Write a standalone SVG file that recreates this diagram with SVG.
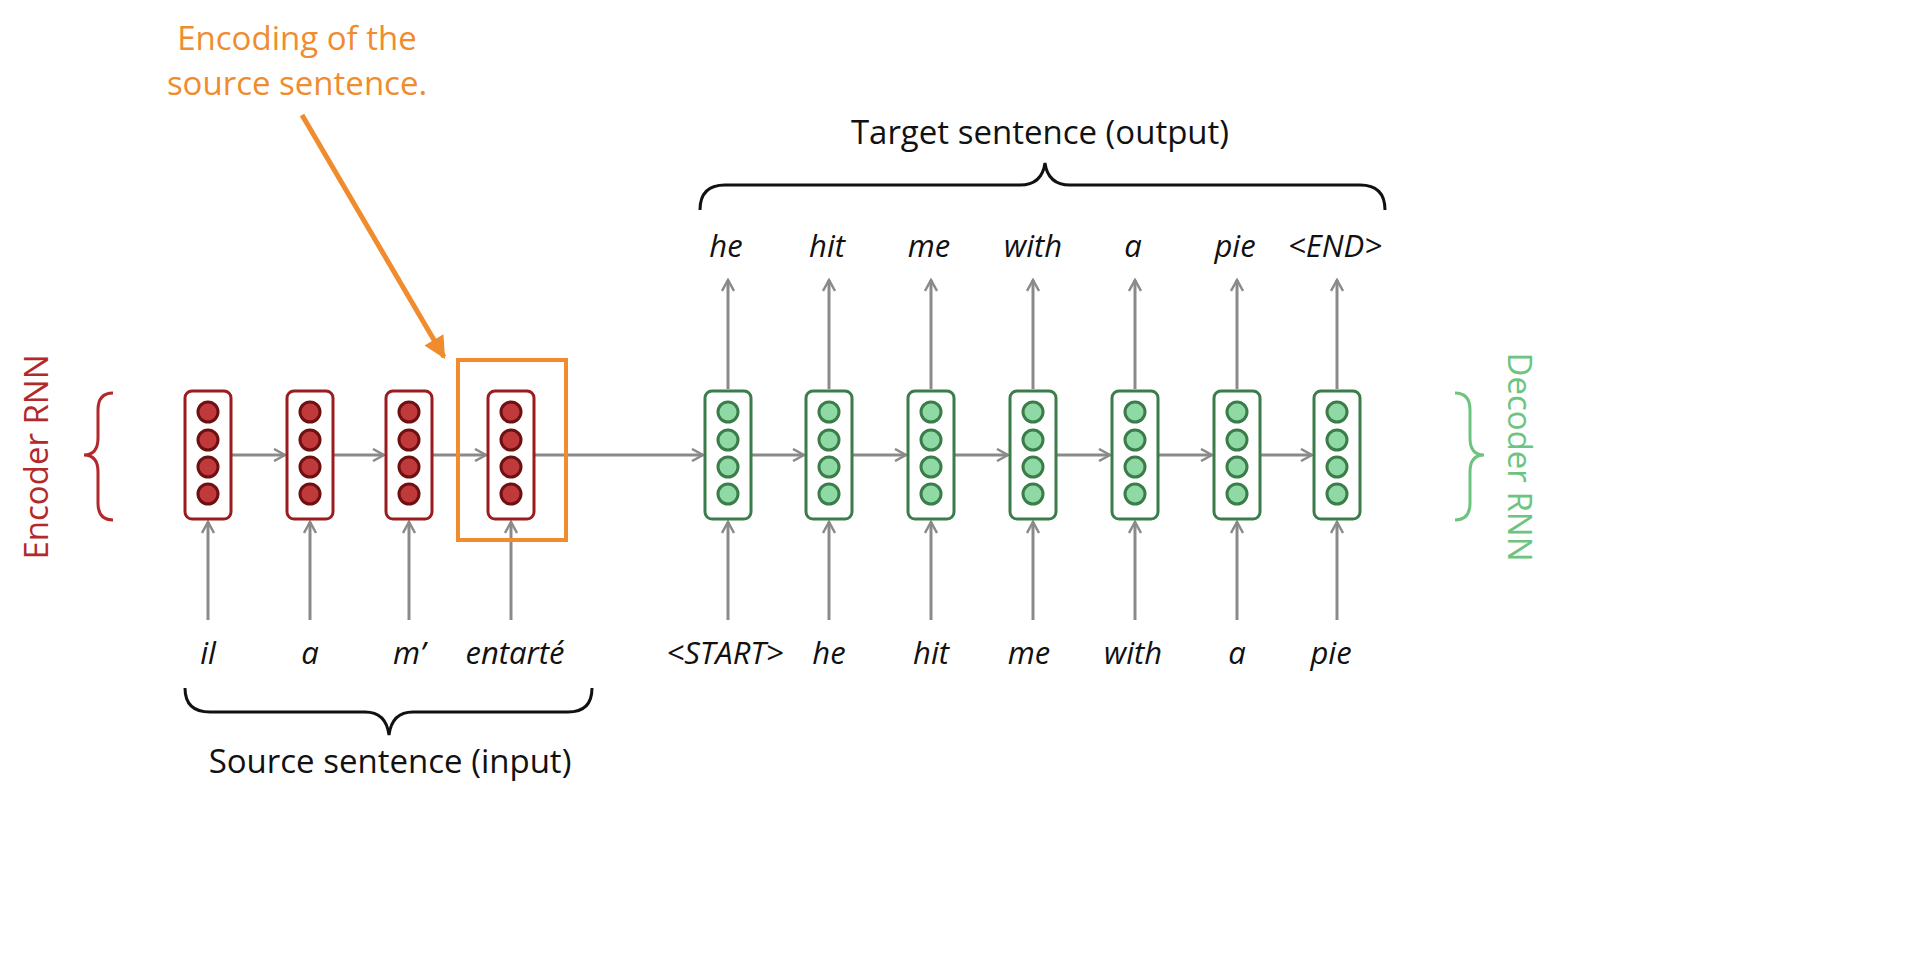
<svg xmlns="http://www.w3.org/2000/svg" width="1912" height="954" viewBox="0 0 1912 954">
<style>
text{font-family:"Open Sans","Liberation Sans",sans-serif;}
.w{font-size:31px;font-style:italic;fill:#111;text-anchor:middle}
.t{font-size:33px;fill:#111;text-anchor:middle}
.enc rect{fill:#fff;stroke:#9b1c1f;stroke-width:3}
.enc circle{fill:#c0393b;stroke:#6e1012;stroke-width:3}
.dec rect{fill:#fff;stroke:#3b7d4a;stroke-width:3}
.dec circle{fill:#8fd9a5;stroke:#3b7d4a;stroke-width:3}
.c line{stroke:#8a8a8a;stroke-width:3;marker-end:url(#a)}
.br{fill:none;stroke-width:3}
</style>
<defs>
<marker id="a" viewBox="0 0 14 14" refX="12" refY="7" markerWidth="14" markerHeight="14" markerUnits="userSpaceOnUse" orient="auto"><path d="M1,1 L12,7 L1,13" fill="none" stroke="#8a8a8a" stroke-width="2.5"/></marker>
<marker id="o" viewBox="0 0 10 10" refX="9" refY="5" markerWidth="26" markerHeight="22" markerUnits="userSpaceOnUse" orient="auto"><path d="M0,0 L10,5 L0,10 z" fill="#f08c2e"/></marker>
</defs>
<g id="connectors" class="c">
<line x1="231" y1="455" x2="285" y2="455"/><line x1="333" y1="455" x2="384" y2="455"/><line x1="432" y1="455" x2="486" y2="455"/><line x1="534" y1="455" x2="703" y2="455"/>
<line x1="751" y1="455" x2="804" y2="455"/><line x1="852" y1="455" x2="906" y2="455"/><line x1="954" y1="455" x2="1008" y2="455"/><line x1="1056" y1="455" x2="1110" y2="455"/><line x1="1158" y1="455" x2="1212" y2="455"/><line x1="1260" y1="455" x2="1312" y2="455"/>
<line x1="208" y1="620" x2="208" y2="522"/><line x1="310" y1="620" x2="310" y2="522"/><line x1="409" y1="620" x2="409" y2="522"/><line x1="511" y1="620" x2="511" y2="522"/>
<line x1="728" y1="620" x2="728" y2="522"/><line x1="829" y1="620" x2="829" y2="522"/><line x1="931" y1="620" x2="931" y2="522"/><line x1="1033" y1="620" x2="1033" y2="522"/><line x1="1135" y1="620" x2="1135" y2="522"/><line x1="1237" y1="620" x2="1237" y2="522"/><line x1="1337" y1="620" x2="1337" y2="522"/>
<line x1="728" y1="389" x2="728" y2="280"/><line x1="829" y1="389" x2="829" y2="280"/><line x1="931" y1="389" x2="931" y2="280"/><line x1="1033" y1="389" x2="1033" y2="280"/><line x1="1135" y1="389" x2="1135" y2="280"/><line x1="1237" y1="389" x2="1237" y2="280"/><line x1="1337" y1="389" x2="1337" y2="280"/>
<line x1="302" y1="115" x2="444" y2="357" style="stroke:#f08c2e;stroke-width:5;marker-end:url(#o)"/>
</g>
<g id="encoder" class="enc">
<g id="e1"><rect x="185" y="391" width="46" height="128" rx="7"/><circle cx="208" cy="412" r="10"/><circle cx="208" cy="440" r="10"/><circle cx="208" cy="467" r="10"/><circle cx="208" cy="494" r="10"/></g>
<g id="e2"><rect x="287" y="391" width="46" height="128" rx="7"/><circle cx="310" cy="412" r="10"/><circle cx="310" cy="440" r="10"/><circle cx="310" cy="467" r="10"/><circle cx="310" cy="494" r="10"/></g>
<g id="e3"><rect x="386" y="391" width="46" height="128" rx="7"/><circle cx="409" cy="412" r="10"/><circle cx="409" cy="440" r="10"/><circle cx="409" cy="467" r="10"/><circle cx="409" cy="494" r="10"/></g>
<g id="e4"><rect x="488" y="391" width="46" height="128" rx="7"/><circle cx="511" cy="412" r="10"/><circle cx="511" cy="440" r="10"/><circle cx="511" cy="467" r="10"/><circle cx="511" cy="494" r="10"/></g>
</g>
<g id="decoder" class="dec">
<g id="d1"><rect x="705" y="391" width="46" height="128" rx="7"/><circle cx="728" cy="412" r="10"/><circle cx="728" cy="440" r="10"/><circle cx="728" cy="467" r="10"/><circle cx="728" cy="494" r="10"/></g>
<g id="d2"><rect x="806" y="391" width="46" height="128" rx="7"/><circle cx="829" cy="412" r="10"/><circle cx="829" cy="440" r="10"/><circle cx="829" cy="467" r="10"/><circle cx="829" cy="494" r="10"/></g>
<g id="d3"><rect x="908" y="391" width="46" height="128" rx="7"/><circle cx="931" cy="412" r="10"/><circle cx="931" cy="440" r="10"/><circle cx="931" cy="467" r="10"/><circle cx="931" cy="494" r="10"/></g>
<g id="d4"><rect x="1010" y="391" width="46" height="128" rx="7"/><circle cx="1033" cy="412" r="10"/><circle cx="1033" cy="440" r="10"/><circle cx="1033" cy="467" r="10"/><circle cx="1033" cy="494" r="10"/></g>
<g id="d5"><rect x="1112" y="391" width="46" height="128" rx="7"/><circle cx="1135" cy="412" r="10"/><circle cx="1135" cy="440" r="10"/><circle cx="1135" cy="467" r="10"/><circle cx="1135" cy="494" r="10"/></g>
<g id="d6"><rect x="1214" y="391" width="46" height="128" rx="7"/><circle cx="1237" cy="412" r="10"/><circle cx="1237" cy="440" r="10"/><circle cx="1237" cy="467" r="10"/><circle cx="1237" cy="494" r="10"/></g>
<g id="d7"><rect x="1314" y="391" width="46" height="128" rx="7"/><circle cx="1337" cy="412" r="10"/><circle cx="1337" cy="440" r="10"/><circle cx="1337" cy="467" r="10"/><circle cx="1337" cy="494" r="10"/></g>
</g>
<rect id="highlight" x="458" y="360" width="108" height="180" fill="none" stroke="#f08c2e" stroke-width="4"/>
<g id="labels" class="w">
<text x="208" y="664">il</text><text x="310" y="664">a</text><text x="409" y="664">m’</text><text x="515" y="664">entarté</text>
<text x="725" y="664">&lt;START&gt;</text><text x="829" y="664">he</text><text x="931" y="664">hit</text><text x="1029" y="664">me</text><text x="1133" y="664">with</text><text x="1237" y="664">a</text><text x="1331" y="664">pie</text>
<text x="726" y="257">he</text><text x="827" y="257">hit</text><text x="929" y="257">me</text><text x="1033" y="257">with</text><text x="1133" y="257">a</text><text x="1235" y="257">pie</text><text x="1335" y="257">&lt;END&gt;</text>
</g>
<g id="braces" class="br">
<path d="M700,210 Q700,185 725,185 L1020,185 Q1042,185 1045,163 Q1048,185 1070,185 L1360,185 Q1385,185 1385,210" stroke="#111"/>
<path d="M185,688 Q185,712 210,712 L365,712 Q386,712 389,735 Q392,712 413,712 L568,712 Q592,712 592,688" stroke="#111"/>
<path d="M113,393 Q98,393 98,410 L98,438 Q98,455 84,455 Q98,455 98,472 L98,503 Q98,520 113,520" stroke="#b3282b"/>
<path d="M1455,393 Q1470,393 1470,410 L1470,438 Q1470,455 1484,455 Q1470,455 1470,472 L1470,503 Q1470,520 1455,520" stroke="#6cc47e"/>
</g>
<g id="titles">
<text class="t" x="1040" y="144">Target sentence (output)</text>
<text class="t" x="390" y="773">Source sentence (input)</text>
<text class="t" x="297" y="50" style="fill:#f08c2e">Encoding of the</text>
<text class="t" x="297" y="95" style="fill:#f08c2e">source sentence.</text>
<text class="t" transform="translate(48,457) rotate(-90)" style="fill:#b3282b">Encoder RNN</text>
<text class="t" transform="translate(1508,457) rotate(90)" style="fill:#6cc47e">Decoder RNN</text>
</g>
</svg>
